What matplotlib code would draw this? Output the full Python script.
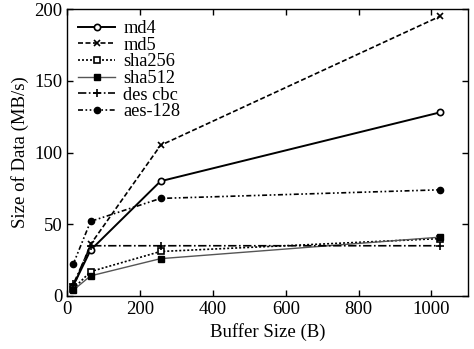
import matplotlib
matplotlib.use("Agg")
import matplotlib.pyplot as plt

# openssl speed throughput per buffer size
buffer_sizes = [16, 64, 256, 1024]
md4 = [7, 32, 80, 128]
md5 = [6, 36, 105, 195]
sha256 = [5, 17, 31, 40]
sha512 = [4, 14, 26, 41]
des_cbc = [8, 35, 35, 35]
aes_128 = [22, 52, 68, 74]

plt.rcParams["font.family"] = "Liberation Serif"
plt.rcParams["font.size"] = 13.5

fig, ax = plt.subplots(figsize=(4.74, 3.49), dpi=100)
fig.subplots_adjust(left=0.142, right=0.987, top=0.974, bottom=0.152)

ms = 4.5
ax.plot(buffer_sizes, md4, color="black", lw=1.4, ls="-",
        marker="o", mfc="white", ms=ms, mew=1.2, label="md4")
ax.plot(buffer_sizes, md5, color="black", lw=1.2, ls=(0, (3, 1.5)),
        marker="x", ms=ms, mew=1.2, label="md5")
ax.plot(buffer_sizes, sha256, color="black", lw=1.2, ls=(0, (1.2, 1.2)),
        marker="s", mfc="white", ms=ms, mew=1.2, label="sha256")
ax.plot(buffer_sizes, sha512, color="#555555", lw=1.0, ls="-",
        marker="s", mfc="black", mec="black", ms=ms, label="sha512")
ax.plot(buffer_sizes, des_cbc, color="black", lw=1.2, ls=(0, (5, 1.5, 1, 1.5)),
        marker="+", ms=ms + 1, mew=1.2, label="des cbc")
ax.plot(buffer_sizes, aes_128, color="black", lw=1.2, ls=(0, (3, 1.5, 1, 1.5, 1, 1.5)),
        marker="o", mfc="black", ms=ms, label="aes-128")

ax.set_xlim(0, 1100)
ax.set_ylim(0, 200)
ax.set_xticks([0, 200, 400, 600, 800, 1000])
ax.set_yticks([0, 50, 100, 150, 200])
ax.tick_params(direction="in", top=True, right=True, length=4, width=1)
for s in ax.spines.values():
    s.set_linewidth(1.0)

ax.set_xlabel("Buffer Size (B)")
ax.set_ylabel("Size of Data (MB/s)")

ax.legend(loc="upper left", frameon=False, fontsize=13.2, handlelength=2.0,
          labelspacing=-0.02, borderaxespad=0.2, handletextpad=0.45)

fig.savefig("out.png", dpi=100)
